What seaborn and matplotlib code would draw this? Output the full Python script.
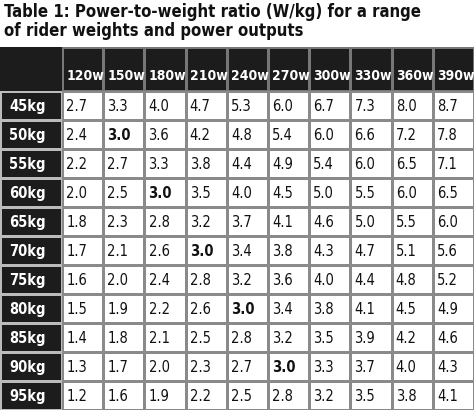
import numpy as np
import pandas as pd
import matplotlib
matplotlib.use('Agg')
import matplotlib.pyplot as plt
import seaborn as sns
from matplotlib.colors import ListedColormap

sns.set_theme(style='white')
plt.rcParams['font.family'] = ['DejaVu Sans']
plt.rcParams['font.stretch'] = 'condensed'

powers = ['120w', '150w', '180w', '210w', '240w', '270w', '300w', '330w', '360w', '390w']
weights = ['45kg', '50kg', '55kg', '60kg', '65kg', '70kg', '75kg', '80kg', '85kg', '90kg', '95kg']
ratios = [
    [2.7, 3.3, 4.0, 4.7, 5.3, 6.0, 6.7, 7.3, 8.0, 8.7],
    [2.4, 3.0, 3.6, 4.2, 4.8, 5.4, 6.0, 6.6, 7.2, 7.8],
    [2.2, 2.7, 3.3, 3.8, 4.4, 4.9, 5.4, 6.0, 6.5, 7.1],
    [2.0, 2.5, 3.0, 3.5, 4.0, 4.5, 5.0, 5.5, 6.0, 6.5],
    [1.8, 2.3, 2.8, 3.2, 3.7, 4.1, 4.6, 5.0, 5.5, 6.0],
    [1.7, 2.1, 2.6, 3.0, 3.4, 3.8, 4.3, 4.7, 5.1, 5.6],
    [1.6, 2.0, 2.4, 2.8, 3.2, 3.6, 4.0, 4.4, 4.8, 5.2],
    [1.5, 1.9, 2.2, 2.6, 3.0, 3.4, 3.8, 4.1, 4.5, 4.9],
    [1.4, 1.8, 2.1, 2.5, 2.8, 3.2, 3.5, 3.9, 4.2, 4.6],
    [1.3, 1.7, 2.0, 2.3, 2.7, 3.0, 3.3, 3.7, 4.0, 4.3],
    [1.2, 1.6, 1.9, 2.2, 2.5, 2.8, 3.2, 3.5, 3.8, 4.1],
]
# highlighted (row, col) cells
bold_cells = [(1, 1), (3, 2), (5, 3), (7, 4), (9, 5)]

W, H = 474, 412
fig = plt.figure(figsize=(W / 100, H / 100), dpi=100)

def box(x0, y0, x1, y1):
    return [x0 / W, 1 - y1 / H, (x1 - x0) / W, (y1 - y0) / H]

dark = ListedColormap(['#1c1c1c'])
light = ListedColormap(['white'])
fs = 10

# corner
ax_c = fig.add_axes(box(0, 47, 62, 91))
sns.heatmap(np.zeros((1, 1)), cmap=dark, cbar=False, ax=ax_c, xticklabels=False, yticklabels=False)

# header row
ax_h = fig.add_axes(box(62, 47, 474, 91))
sns.heatmap(np.zeros((1, len(powers))), cmap=dark, cbar=False, ax=ax_h,
            linewidths=1, linecolor='#777777', xticklabels=False, yticklabels=False)
for j, p in enumerate(powers):
    ax_h.text(j + 0.1, 0.65, p, color='white', fontsize=fs, fontweight='bold', ha='left', va='center')

# left column
ax_l = fig.add_axes(box(0, 91, 62, 91 + 29 * len(weights)))
sns.heatmap(np.zeros((len(weights), 1)), cmap=dark, cbar=False, ax=ax_l,
            linewidths=1, linecolor='#bbbbbb', xticklabels=False, yticklabels=False)
for i, w in enumerate(weights):
    ax_l.text(0.15, i + 0.55, w, color='white', fontsize=fs + 0.5, fontweight='bold', ha='left', va='center')

# data cells
df = pd.DataFrame(ratios, index=weights, columns=powers)
ax_d = fig.add_axes(box(62, 91, 474, 91 + 29 * len(weights)))
sns.heatmap(np.zeros(df.shape), cmap=light, cbar=False, ax=ax_d,
            linewidths=0.8, linecolor='#8a8a8a', xticklabels=False, yticklabels=False)
for i in range(df.shape[0]):
    for j in range(df.shape[1]):
        ax_d.text(j + 0.1, i + 0.55, f'{df.iat[i, j]:.1f}', color='#111111', fontsize=fs + 0.5,
                  fontweight='bold' if (i, j) in bold_cells else 'normal', ha='left', va='center')

for ax in (ax_c, ax_h, ax_l, ax_d):
    for s in ax.spines.values():
        s.set_visible(False)

fig.text(4 / W, 1 - 3 / H, 'Table 1: Power-to-weight ratio (W/kg) for a range\nof rider weights and power outputs',
         fontsize=12, fontweight='bold', color='#111111', ha='left', va='top', linespacing=1.1)

fig.savefig('out.png', dpi=100)
